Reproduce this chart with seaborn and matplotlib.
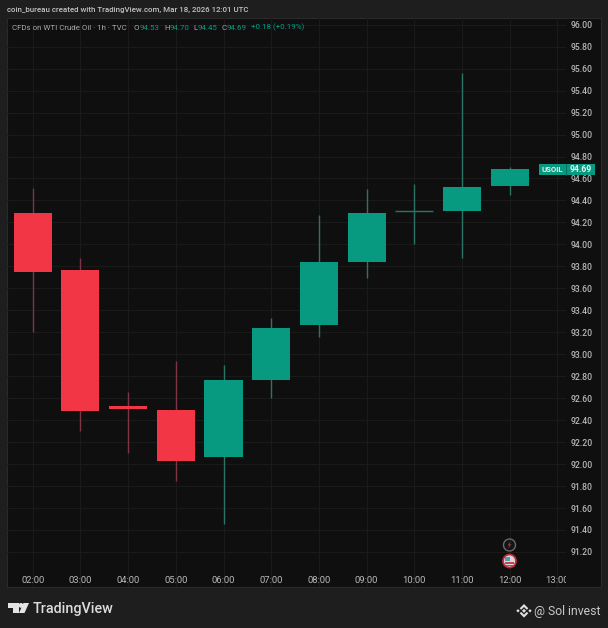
import numpy as np
import pandas as pd
import seaborn as sns
import matplotlib.pyplot as plt
from matplotlib.patches import Rectangle, Circle, Polygon
from matplotlib.transforms import Bbox

hours = ["02:00", "03:00", "04:00", "05:00", "06:00", "07:00",
         "08:00", "09:00", "10:00", "11:00", "12:00", "13:00"]
opens = [94.29, 93.77, 92.53, 92.49, 92.06, 92.77, 93.27, 93.84, 94.30, 94.30, 94.53]
highs = [94.51, 93.88, 92.66, 92.94, 92.90, 93.33, 94.27, 94.50, 94.55, 95.56, 94.70]
lows = [93.20, 92.30, 92.10, 91.85, 91.45, 92.60, 93.16, 93.69, 94.00, 93.88, 94.45]
closes = [93.75, 92.48, 92.50, 92.03, 92.77, 93.24, 93.84, 94.29, 94.30, 94.52, 94.69]
price_ticks = [91.2, 91.4, 91.6, 91.8, 92.0, 92.2, 92.4, 92.6, 92.8, 93.0, 93.2, 93.4, 93.6,
               93.8, 94.0, 94.2, 94.4, 94.6, 94.8, 95.0, 95.2, 95.4, 95.6, 95.8, 96.0]

BG = "#1e1e1e"
PANEL = "#0f0f0f"
GRID = "#1a1a1a"
UP = "#089981"
DOWN = "#f23645"
UP_WICK = "#2b7567"
DOWN_WICK = "#7d3444"
TEXT = "#b8b8b8"

sns.set_theme(style="dark")
plt.rcParams["font.family"] = ["Roboto", "DejaVu Sans"]

df = pd.DataFrame({"hour": hours[:11], "open": opens, "high": highs, "low": lows, "close": closes})
df["body"] = (df["close"] - df["open"]).abs()
df["bottom"] = df[["open", "close"]].min(axis=1)
df["pos"] = range(len(df))

W, H = 608, 628
fig = plt.figure(figsize=(W / 100, H / 100), dpi=100, facecolor=BG)
fig.add_artist(Rectangle((7 / W, 1 - 587 / H), 594 / W, 569 / H, transform=fig.transFigure,
                         facecolor=PANEL, edgecolor="#2a2a2a", lw=0.8, zorder=-1))

ax = fig.add_axes([7 / W, 1 - 587 / H, 559 / W, 569 / H], facecolor="none")

for rising, color in [(False, DOWN), (True, UP)]:
    sub = df[(df["close"] >= df["open"]) == rising]
    sns.barplot(data=sub, x="hour", y="body", order=hours, color=color, bottom=sub["bottom"].values,
                width=0.8, saturation=1, errorbar=None, ax=ax, zorder=3, linewidth=0)

wick_colors = [UP_WICK if c >= o else DOWN_WICK for o, c in zip(opens, closes)]
ax.vlines(df["pos"], df["low"], df["high"], colors=wick_colors, lw=1, zorder=2)

# doji candle has no body height, show it as a line
flat = df[df["body"] == 0]
ax.hlines(flat["close"], flat["pos"] - 0.4, flat["pos"] + 0.4, colors=UP_WICK, lw=1, zorder=3)

ax.set_xlim(-0.539, 11.18)
ax.set_ylim(90.881, 96.061)
ax.set_xlabel("")
ax.set_ylabel("")
ax.set_yticks(price_ticks)
ax.set_yticklabels([f"{p:.2f}" for p in price_ticks], fontweight="medium")
ax.yaxis.tick_right()
ax.grid(True, color=GRID, lw=0.8, zorder=0)
ax.set_axisbelow(True)
for s in ax.spines.values():
    s.set_visible(False)
ax.tick_params(axis="y", length=0, pad=3.6, labelsize=6.2, labelcolor=TEXT)
ax.tick_params(axis="x", length=0, pad=-8, labelsize=6.8, labelcolor=TEXT)
clip = Bbox([[0, 0], [566, H]])
for lab in ax.get_xticklabels():
    lab.set_clip_box(clip)
    lab.set_clip_on(True)

# overlay in pixel coordinates for header, price tag, logos
ov = fig.add_axes([0, 0, 1, 1], facecolor="none")
ov.set_xlim(0, W)
ov.set_ylim(H, 0)
ov.axis("off")

ov.text(7, 10, "coin_bureau created with TradingView.com, Mar 18, 2026 12:01 UTC",
        color="#c4c4c4", fontsize=5.7, va="center", fontweight="medium")
ov.text(12, 27.5, "CFDs on WTI Crude Oil · 1h · TVC", color="#a8a8a8", fontsize=5.7, va="center")
for x, s, c in [(134, "O", "#a8a8a8"), (139.5, "94.53", UP), (164, "H", "#a8a8a8"), (169.5, "94.70", UP),
                (193, "L", "#a8a8a8"), (198, "94.45", UP), (222, "C", "#a8a8a8"), (227, "94.69", UP),
                (251, "+0.18 (+0.19%)", UP)]:
    ov.text(x, 27.5, s, color=c, fontsize=5.7, va="center")

ov.add_patch(Rectangle((539, 163.5), 56, 11, facecolor=UP, edgecolor="none"))
ov.plot([566, 566], [163.5, 174.5], color="#0b6b5b", lw=0.7)
ov.text(552.5, 169.2, "USOIL", color="#e6f2ef", fontsize=5.6, ha="center", va="center", fontweight="bold")
ov.text(580.5, 169.2, "94.69", color="#e6f2ef", fontsize=6.2, ha="center", va="center", fontweight="bold")

ov.add_patch(Circle((509.5, 545), 6, facecolor="#141414", edgecolor="#6a6a6a", lw=1))
ov.add_patch(Polygon([(511, 541), (507.5, 545.5), (509.7, 545.3), (508, 549), (511.5, 544.3), (509.5, 544.5)],
                     facecolor="#a04050", edgecolor="none"))
ov.add_patch(Circle((509.5, 561), 6.5, facecolor="#d8d8d8", edgecolor="#c0283a", lw=1.3))
ov.add_patch(Rectangle((505, 556.5), 5, 4.5, facecolor="#4aa0b8", edgecolor="none"))
ov.add_patch(Rectangle((505, 562), 9, 1.6, facecolor="#d0404a", edgecolor="none"))
ov.add_patch(Rectangle((505.5, 565), 8, 1.3, facecolor="#d0404a", edgecolor="none"))

# TradingView logo
LOGO = "#e4e4e4"
ov.add_patch(Polygon([(8, 603), (18.5, 603), (18.5, 613), (13, 613), (13, 608), (8, 608)],
                     facecolor=LOGO, edgecolor="none"))
ov.add_patch(Circle((21, 605.4), 2.4, facecolor=LOGO, edgecolor="none"))
ov.add_patch(Polygon([(23.5, 603), (29, 603), (24.5, 613), (19, 613)], facecolor=LOGO, edgecolor="none"))
ov.text(32.5, 608.5, "TradingView", color="#dcdcdc", fontsize=10.4, va="center", fontweight="medium")

# binance style diamond mark
MARK = "#e0e0e0"
ov.add_patch(Polygon([(524, 604), (528.3, 608.3), (526.8, 609.8), (524, 607), (521.2, 609.8), (519.7, 608.3)],
                     facecolor=MARK, edgecolor="none"))
ov.add_patch(Polygon([(524, 617.6), (528.3, 613.3), (526.8, 611.8), (524, 614.6), (521.2, 611.8), (519.7, 613.3)],
                     facecolor=MARK, edgecolor="none"))
for cx, r in [(518, 1.7), (530, 1.7), (524, 2)]:
    ov.add_patch(Polygon([(cx - r, 610.8), (cx, 610.8 - r), (cx + r, 610.8), (cx, 610.8 + r)],
                         facecolor=MARK, edgecolor="none"))
ov.text(534.5, 611, "@ Sol invest", color="#c8c8c8", fontsize=8.8, va="center")

fig.savefig("out.png", dpi=100, facecolor=BG)
